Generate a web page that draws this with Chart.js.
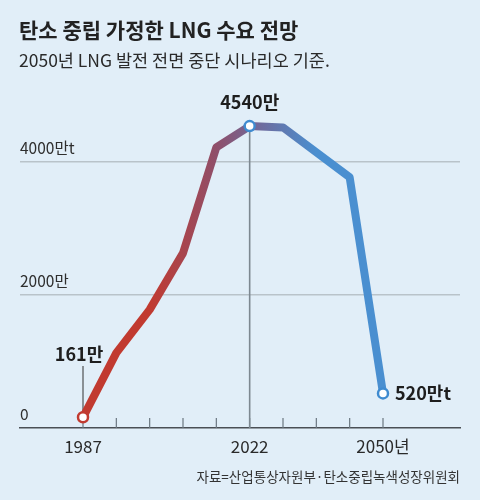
<!DOCTYPE html>
<html>
<head>
<meta charset="utf-8">
<script src="https://cdn.jsdelivr.net/npm/chart.js@4"></script>
<style>
  html, body { margin: 0; padding: 0; background: #e1eef8; }
  #wrap { width: 480px; height: 500px; }
</style>
</head>
<body>
<div id="wrap"><canvas id="lng-chart" width="480" height="500"></canvas></div>
<script>
// 데이터 (단위: 만t)
const years = [1987, 1994, 2001, 2008, 2015, 2022, 2029, 2043, 2050];
const demand = [161, 1130, 1780, 2630, 4220, 4540, 4520, 3770, 520];
const tickYears = [1987, 1994, 2001, 2008, 2015, 2022, 2029, 2036, 2043, 2050];
const yTicks = [0, 2000, 4000];
const yTickLabels = ['0', '2000만', '4000만t'];
const pointLabels = { 1987: '161만', 2022: '4540만', 2050: '520만t' };

const FONT = '"Noto Sans CJK KR", "Noto Sans", sans-serif';

function lineGradient(chart) {
    const { ctx, chartArea, scales } = chart;
    if (!chartArea) return '#c0392f';
    const x = scales.x;
    const g = ctx.createLinearGradient(chartArea.left, 0, chartArea.right, 0);
    const stop = (yr) => (x.getPixelForValue(yr) - chartArea.left) / (chartArea.right - chartArea.left);
    g.addColorStop(stop(2001), '#c13a30');
    g.addColorStop(stop(2015), '#8f4f6a');
    g.addColorStop(stop(2024), '#6f6a9c');
    g.addColorStop(stop(2036), '#4a8fd0');
    g.addColorStop(1, '#4a8fd0');
    return g;
}

// 제목, 보조선, 눈금, 라벨
const decorPlugin = {
    id: 'decor',
    beforeDatasetsDraw(chart) {
        const { ctx, chartArea, scales } = chart;
        const x = scales.x, y = scales.y;
        ctx.save();
        // 축 안쪽 눈금
        ctx.strokeStyle = '#6b7780';
        ctx.lineWidth = 1.2;
        tickYears.forEach(yr => {
            const px = x.getPixelForValue(yr);
            ctx.beginPath();
            ctx.moveTo(px, chartArea.bottom);
            ctx.lineTo(px, chartArea.bottom - 10);
            ctx.stroke();
        });
        // 2022 세로선
        const px22 = x.getPixelForValue(2022);
        ctx.strokeStyle = '#7d8891';
        ctx.lineWidth = 1.6;
        ctx.beginPath();
        ctx.moveTo(px22, y.getPixelForValue(4540));
        ctx.lineTo(px22, chartArea.bottom);
        ctx.stroke();
        // 161만 지시선
        const px87 = x.getPixelForValue(1987);
        ctx.strokeStyle = '#333';
        ctx.lineWidth = 1;
        ctx.beginPath();
        ctx.moveTo(px87, 366);
        ctx.lineTo(px87, y.getPixelForValue(161) - 6);
        ctx.stroke();
        ctx.restore();
    },
    afterDraw(chart) {
        const { ctx, scales } = chart;
        const x = scales.x, y = scales.y;
        ctx.save();
        ctx.fillStyle = '#222';
        ctx.textBaseline = 'alphabetic';
        ctx.textAlign = 'left';
        ctx.font = 'bold 21px ' + FONT;
        ctx.fillText('탄소 중립 가정한 LNG 수요 전망', 19, 38);
        ctx.font = '17.5px ' + FONT;
        ctx.fillStyle = '#2a2a2a';
        ctx.fillText('2050년 LNG 발전 전면 중단 시나리오 기준.', 19, 67);

        // 값 라벨
        ctx.font = 'bold 18px ' + FONT;
        ctx.fillStyle = '#1e1e1e';
        ctx.textAlign = 'center';
        ctx.fillText(pointLabels[2022], x.getPixelForValue(2022), y.getPixelForValue(4540) - 17);
        ctx.fillText(pointLabels[1987], x.getPixelForValue(1987) - 4, 361);
        ctx.textAlign = 'left';
        ctx.textBaseline = 'middle';
        ctx.fillText(pointLabels[2050], x.getPixelForValue(2050) + 12, y.getPixelForValue(520));

        // 출처
        ctx.font = '13.5px ' + FONT;
        ctx.fillStyle = '#333';
        ctx.textAlign = 'right';
        ctx.textBaseline = 'alphabetic';
        ctx.fillText('자료=산업통상자원부·탄소중립녹색성장위원회', 460, 482);
        ctx.restore();
    }
};

const ctx = document.getElementById('lng-chart').getContext('2d');

new Chart(ctx, {
    type: 'line',
    data: {
        datasets: [{
            label: 'LNG 수요',
            data: years.map((yr, i) => ({ x: yr, y: demand[i] })),
            borderColor: (c) => lineGradient(c.chart),
            borderWidth: 8,
            borderCapStyle: 'round',
            borderJoinStyle: 'round',
            tension: 0,
            pointRadius: (c) => (pointLabels[years[c.dataIndex]] ? 5 : 0),
            pointHoverRadius: 0,
            pointBackgroundColor: '#ffffff',
            pointBorderWidth: 2.5,
            pointBorderColor: (c) => (c.dataIndex === 0 ? '#c13a30' : '#3f8bd0'),
            clip: false
        }]
    },
    options: {
        responsive: false,
        animation: false,
        devicePixelRatio: 1,
        layout: { padding: { left: 20, right: 20, top: 95.5, bottom: 0 } },
        plugins: {
            legend: { display: false },
            tooltip: { enabled: false },
            title: { display: false }
        },
        scales: {
            x: {
                type: 'linear',
                min: 1973.77,
                max: 2066.17,
                afterBuildTicks: (s) => { s.ticks = tickYears.map(v => ({ value: v })); },
                afterFit: (s) => { s.height = 72; },
                grid: { display: false, drawTicks: false },
                border: { display: true, color: '#4a4f55', width: 1.5 },
                ticks: {
                    padding: 8,
                    color: '#2a2a2a',
                    font: { family: FONT, size: 17 },
                    maxRotation: 0,
                    autoSkip: false,
                    callback: (v) => (v === 1987 || v === 2022 ? String(v) : v === 2050 ? '2050년' : '')
                }
            },
            y: {
                min: 0,
                max: 5000,
                afterBuildTicks: (s) => { s.ticks = yTicks.map(v => ({ value: v })); },
                afterFit: (s) => { s.width = 0; },
                grid: {
                    drawTicks: false,
                    color: (c) => (c.tick && c.tick.value === 0 ? 'rgba(0,0,0,0)' : '#b9c3ca'),
                    lineWidth: 1.5
                },
                border: { display: false },
                ticks: {
                    mirror: true,
                    padding: 0,
                    labelOffset: -14,
                    color: '#2e2e2e',
                    font: { family: FONT, size: 15.5 },
                    callback: (v) => yTickLabels[yTicks.indexOf(v)]
                }
            }
        }
    },
    plugins: [decorPlugin]
});
</script>
</body>
</html>
